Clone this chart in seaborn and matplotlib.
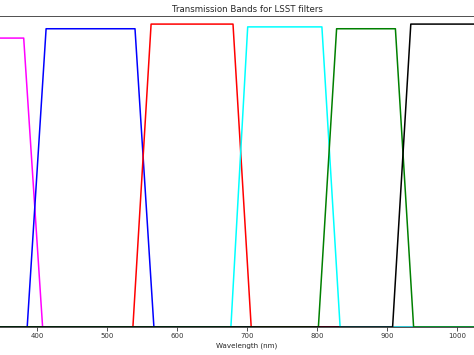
import numpy as np
import pandas as pd
import matplotlib
matplotlib.use("Agg")
import matplotlib.pyplot as plt
import seaborn as sns

# Filter names and colours
filters = ["u", "g", "r", "i", "z", "y"]
colors = ["magenta", "blue", "red", "cyan", "green", "black"]

# Trapezoidal transmission curves (nm, transmission)
u_wl = [300, 320, 330, 381, 408, 1100]
u_tr = [0.0, 0.0, 0.929, 0.929, 0.0, 0.0]
g_wl = [300, 386, 413, 540, 567, 1100]
g_tr = [0.0, 0.0, 0.959, 0.959, 0.0, 0.0]
r_wl = [300, 537, 563, 680, 706, 1100]
r_tr = [0.0, 0.0, 0.974, 0.974, 0.0, 0.0]
i_wl = [300, 677, 701, 807, 833, 1100]
i_tr = [0.0, 0.0, 0.965, 0.965, 0.0, 0.0]
z_wl = [300, 802, 828, 912, 938, 1100]
z_tr = [0.0, 0.0, 0.959, 0.959, 0.0, 0.0]
y_wl = [300, 908, 934, 1100]
y_tr = [0.0, 0.0, 0.974, 0.974]

xticks = [400, 500, 600, 700, 800, 900, 1000]

bands = {"u": (u_wl, u_tr), "g": (g_wl, g_tr), "r": (r_wl, r_tr),
         "i": (i_wl, i_tr), "z": (z_wl, z_tr), "y": (y_wl, y_tr)}

rows = []
for f in filters:
    wl, tr = bands[f]
    for w, t in zip(wl, tr):
        rows.append({"filter": f, "wavelength": w, "transmission": t})
df = pd.DataFrame(rows)

sns.set_style("white")
plt.rcParams["font.family"] = ["DejaVu Sans"]

fig = plt.figure(figsize=(4.74, 3.55), dpi=100)
ax = fig.add_axes([-33 / 474, 28 / 355, 560 / 474, 311 / 355])

for f, c in zip(filters, colors):
    sub = df[df["filter"] == f]
    sns.lineplot(data=sub, x="wavelength", y="transmission", color=c,
                 linewidth=1.1, sort=False, ax=ax, legend=False)

ax.set_xlim(300, 1100)
ax.set_ylim(0, 1.0)
ax.set_xticks(xticks)
ax.set_xticklabels([str(t) for t in xticks])
ax.set_yticks([])
ax.tick_params(axis="x", direction="out", length=3, width=0.6,
               labelsize=5.0, pad=1.5, bottom=True, colors="#333333")
for s in ax.spines.values():
    s.set_linewidth(0.6)
    s.set_color("#333333")
ax.set_title("Transmission Bands for LSST filters", fontsize=6.25, pad=3)
ax.set_xlabel("Wavelength (nm)", fontsize=5.15, labelpad=2)
ax.set_ylabel("")

fig.savefig("out.png", dpi=100)
